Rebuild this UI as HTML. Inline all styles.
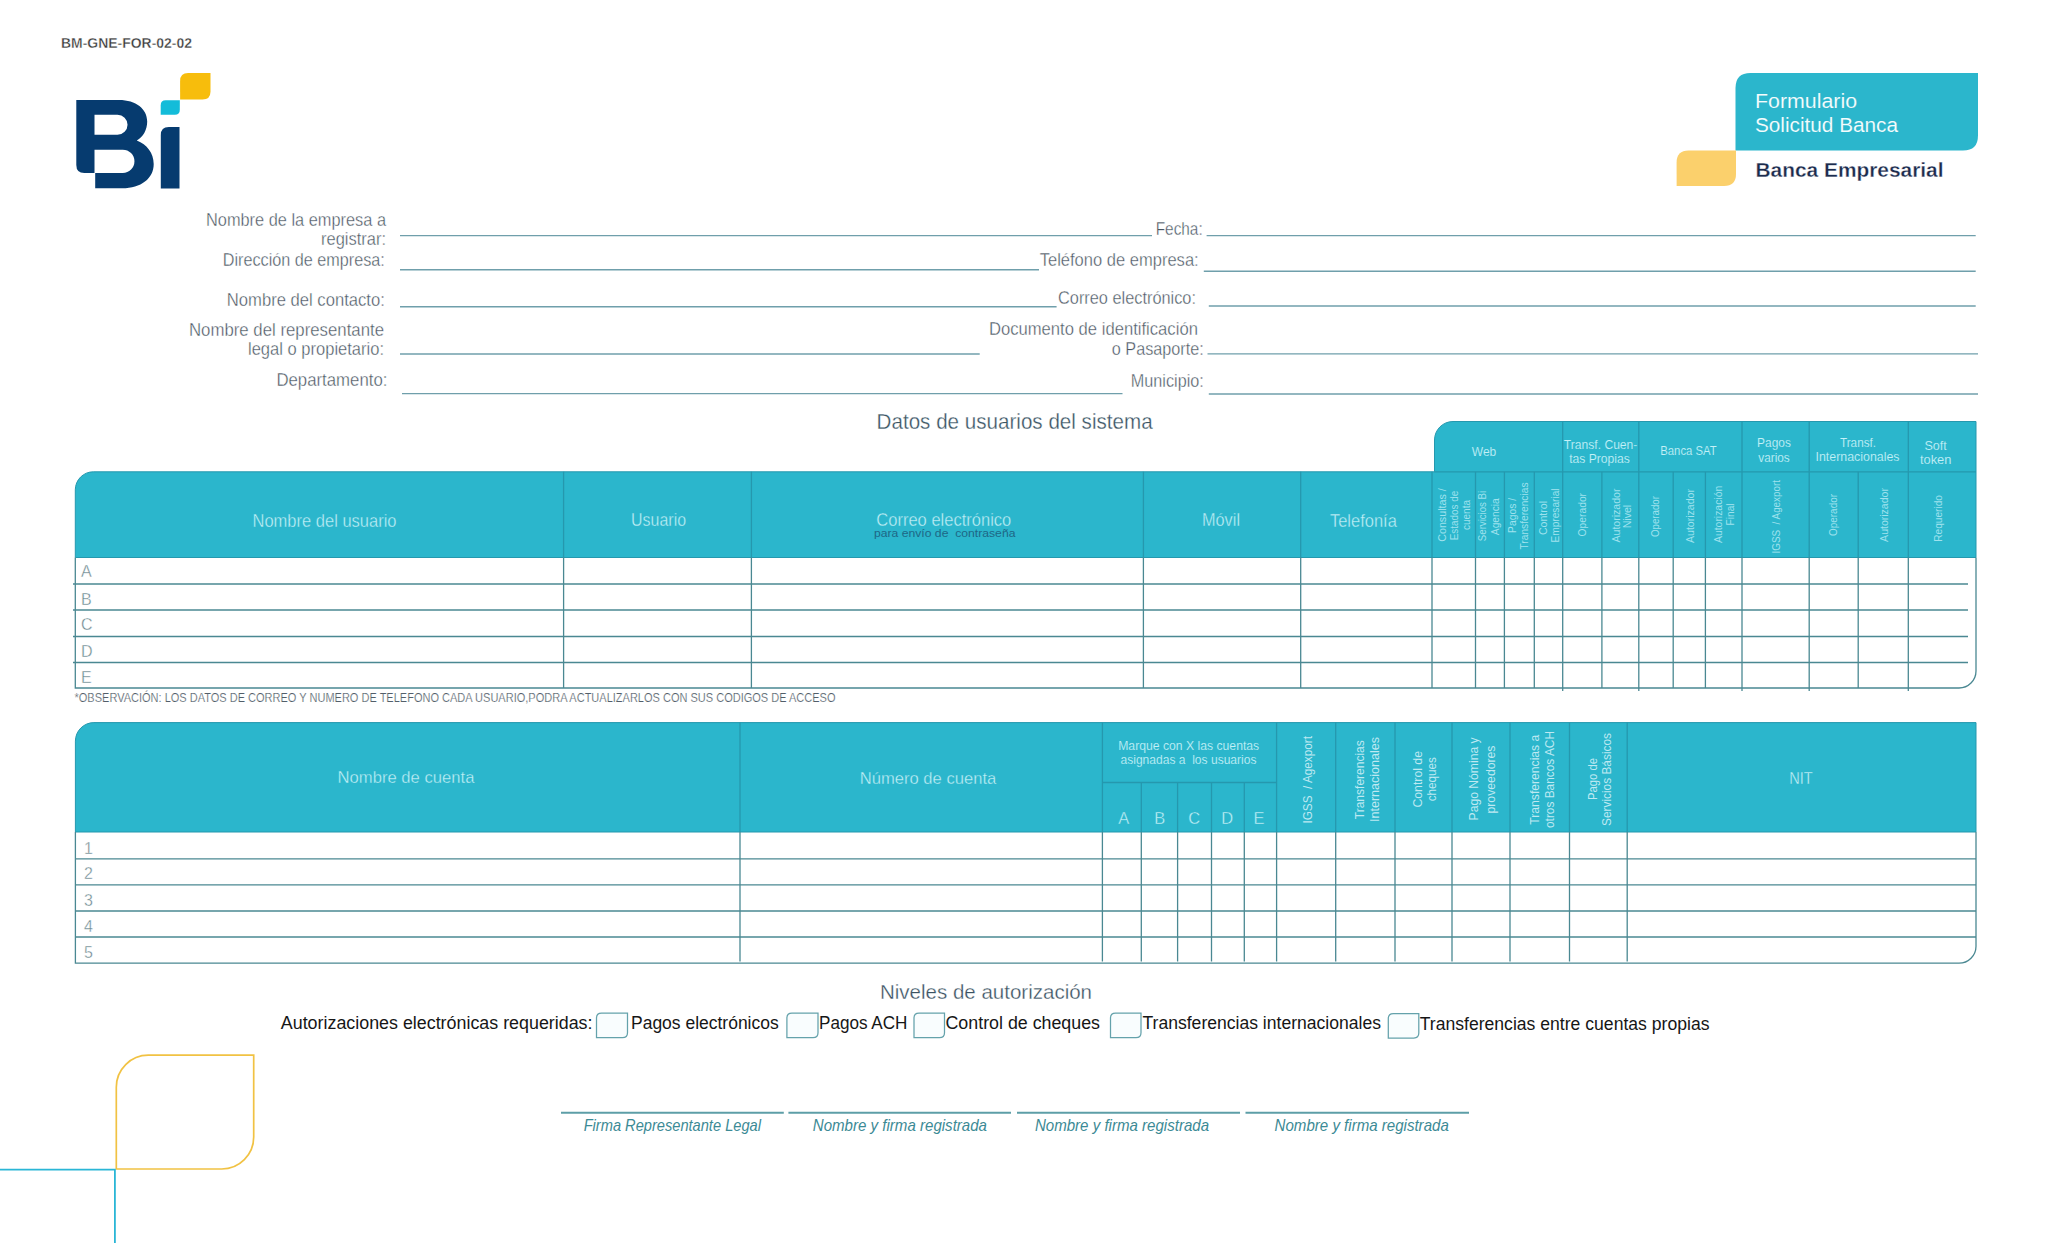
<!DOCTYPE html><html><head><meta charset="utf-8"><style>html,body{margin:0;padding:0;background:#fff;width:2048px;height:1243px;overflow:hidden}svg{display:block;font-family:"Liberation Sans",sans-serif}</style></head><body>
<svg width="2048" height="1243" viewBox="0 0 2048 1243">
<text x="61" y="48.4" font-size="14.5" fill="#3a3a3a" text-anchor="start" stroke="#ffffff" stroke-width="0.35" font-weight="bold" textLength="131" lengthAdjust="spacingAndGlyphs" >BM-GNE-FOR-02-02</text>
<path fill="#063b6f" fill-rule="evenodd" d="M76.3 100 L119 100 C136 100 147.2 109 147.2 121.5 C147.2 130 143 137 136.8 140.5 C147 144.5 153.7 153 153.7 164 C153.7 178.5 141 188.3 122.3 188.3 L95.2 188.3 L95.2 173 L84.3 173 Q76.3 173 76.3 165 Z M94.5 114.7 L117.5 114.7 A10.05 10.05 0 0 1 117.5 134.8 L94.5 134.8 Z M94.5 149.7 L122.8 149.7 A11.65 11.65 0 0 1 122.8 173 L94.5 173 Z"/>
<path fill="#063b6f" d="M160.8 188.4 L160.8 135 Q160.8 127 168.8 127 L179.5 127 L179.5 188.4 Z"/>
<path fill="#13bcd9" d="M160.7 114.8 L160.7 105.2 Q160.7 100.2 165.7 100.2 L179.8 100.2 L179.8 109.8 Q179.8 114.8 174.8 114.8 Z"/>
<path fill="#f7bd0c" d="M180.1 99.4 L180.1 80.9 Q180.1 72.9 188.1 72.9 L210.5 72.9 L210.5 91.4 Q210.5 99.4 202.5 99.4 Z"/>
<path fill="#2bb6cc" d="M1735.5 150.5 L1735.5 88 Q1735.5 73 1750.5 73 L1978 73 L1978 135.5 Q1978 150.5 1963 150.5 Z"/>
<path fill="#fbd06c" d="M1676.6 186 L1676.6 162.5 Q1676.6 150.5 1688.6 150.5 L1736 150.5 L1736 174 Q1736 186 1724 186 Z"/>
<text x="1755" y="108" font-size="20" fill="#f4fcfd" text-anchor="start" stroke="#2bb6cc" stroke-width="0.1" textLength="102" lengthAdjust="spacingAndGlyphs" >Formulario</text>
<text x="1755" y="132" font-size="20" fill="#f4fcfd" text-anchor="start" stroke="#2bb6cc" stroke-width="0.1" textLength="143" lengthAdjust="spacingAndGlyphs" >Solicitud Banca</text>
<text x="1755.5" y="176.7" font-size="20.5" fill="#1b2b4d" text-anchor="start" stroke="#ffffff" stroke-width="0.3" font-weight="bold" textLength="188" lengthAdjust="spacingAndGlyphs" >Banca Empresarial</text>
<text x="386" y="226" font-size="17.5" fill="#48545f" text-anchor="end" stroke="#ffffff" stroke-width="0.35" textLength="180" lengthAdjust="spacingAndGlyphs" >Nombre de la empresa a</text>
<text x="386" y="245" font-size="17.5" fill="#48545f" text-anchor="end" stroke="#ffffff" stroke-width="0.35" textLength="65" lengthAdjust="spacingAndGlyphs" >registrar:</text>
<text x="384.8" y="266" font-size="17.5" fill="#48545f" text-anchor="end" stroke="#ffffff" stroke-width="0.35" textLength="162" lengthAdjust="spacingAndGlyphs" >Dirección de empresa:</text>
<text x="384.8" y="305.6" font-size="17.5" fill="#48545f" text-anchor="end" stroke="#ffffff" stroke-width="0.35" textLength="158" lengthAdjust="spacingAndGlyphs" >Nombre del contacto:</text>
<text x="384" y="336" font-size="17.5" fill="#48545f" text-anchor="end" stroke="#ffffff" stroke-width="0.35" textLength="195" lengthAdjust="spacingAndGlyphs" >Nombre del representante</text>
<text x="384" y="355" font-size="17.5" fill="#48545f" text-anchor="end" stroke="#ffffff" stroke-width="0.35" textLength="136" lengthAdjust="spacingAndGlyphs" >legal o propietario:</text>
<text x="387.4" y="386" font-size="17.5" fill="#48545f" text-anchor="end" stroke="#ffffff" stroke-width="0.35" textLength="111" lengthAdjust="spacingAndGlyphs" >Departamento:</text>
<text x="1202.7" y="235" font-size="17.5" fill="#48545f" text-anchor="end" stroke="#ffffff" stroke-width="0.35" textLength="47" lengthAdjust="spacingAndGlyphs" >Fecha:</text>
<text x="1198.7" y="266" font-size="17.5" fill="#48545f" text-anchor="end" stroke="#ffffff" stroke-width="0.35" textLength="159" lengthAdjust="spacingAndGlyphs" >Teléfono de empresa:</text>
<text x="1196" y="303.7" font-size="17.5" fill="#48545f" text-anchor="end" stroke="#ffffff" stroke-width="0.35" textLength="138" lengthAdjust="spacingAndGlyphs" >Correo electrónico:</text>
<text x="1197.9" y="335" font-size="17.5" fill="#48545f" text-anchor="end" stroke="#ffffff" stroke-width="0.35" textLength="209" lengthAdjust="spacingAndGlyphs" >Documento de identificación</text>
<text x="1203.8" y="355" font-size="17.5" fill="#48545f" text-anchor="end" stroke="#ffffff" stroke-width="0.35" textLength="92" lengthAdjust="spacingAndGlyphs" >o Pasaporte:</text>
<text x="1203.8" y="386.8" font-size="17.5" fill="#48545f" text-anchor="end" stroke="#ffffff" stroke-width="0.35" textLength="73" lengthAdjust="spacingAndGlyphs" >Municipio:</text>
<line x1="400" y1="235.6" x2="1152" y2="235.6" stroke="#6f9fab" stroke-width="1.4"/>
<line x1="400" y1="269.7" x2="1039" y2="269.7" stroke="#6f9fab" stroke-width="1.4"/>
<line x1="400" y1="306.8" x2="1056.6" y2="306.8" stroke="#6f9fab" stroke-width="1.4"/>
<line x1="400" y1="354" x2="979.7" y2="354" stroke="#6f9fab" stroke-width="1.4"/>
<line x1="402" y1="393.6" x2="1122.5" y2="393.6" stroke="#6f9fab" stroke-width="1.4"/>
<line x1="1206.6" y1="235.6" x2="1975.7" y2="235.6" stroke="#6f9fab" stroke-width="1.4"/>
<line x1="1203.8" y1="271.3" x2="1975.7" y2="271.3" stroke="#6f9fab" stroke-width="1.4"/>
<line x1="1208.8" y1="306" x2="1975.7" y2="306" stroke="#6f9fab" stroke-width="1.4"/>
<line x1="1207.5" y1="353.9" x2="1978" y2="353.9" stroke="#6f9fab" stroke-width="1.4"/>
<line x1="1208.8" y1="394" x2="1978" y2="394" stroke="#6f9fab" stroke-width="1.4"/>
<text x="1014.6" y="428.6" font-size="22" fill="#3a5464" text-anchor="middle" stroke="#ffffff" stroke-width="0.3" textLength="276" lengthAdjust="spacingAndGlyphs" >Datos de usuarios del sistema</text>
<path fill="#2bb6cc" stroke="#2598ae" stroke-width="1" d="M75.3 557.5 L75.3 489.8 A18 18 0 0 1 93.3 471.8 L1434.5 471.8 L1434.5 440 A18.5 18.5 0 0 1 1453 421.5 L1976 421.5 L1976 557.5 Z"/>
<line x1="563.6" y1="471.8" x2="563.6" y2="557.5" stroke="#2598ae" stroke-width="1.3"/>
<line x1="751.4" y1="471.8" x2="751.4" y2="557.5" stroke="#2598ae" stroke-width="1.3"/>
<line x1="1143.4" y1="471.8" x2="1143.4" y2="557.5" stroke="#2598ae" stroke-width="1.3"/>
<line x1="1300.7" y1="471.8" x2="1300.7" y2="557.5" stroke="#2598ae" stroke-width="1.3"/>
<line x1="1432" y1="471.8" x2="1432" y2="557.5" stroke="#2598ae" stroke-width="1.3"/>
<line x1="1475.5" y1="471.8" x2="1475.5" y2="557.5" stroke="#2598ae" stroke-width="1.3"/>
<line x1="1504.4" y1="471.8" x2="1504.4" y2="557.5" stroke="#2598ae" stroke-width="1.3"/>
<line x1="1534.3" y1="471.8" x2="1534.3" y2="557.5" stroke="#2598ae" stroke-width="1.3"/>
<line x1="1562.7" y1="471.8" x2="1562.7" y2="557.5" stroke="#2598ae" stroke-width="1.3"/>
<line x1="1601.9" y1="471.8" x2="1601.9" y2="557.5" stroke="#2598ae" stroke-width="1.3"/>
<line x1="1638.8" y1="471.8" x2="1638.8" y2="557.5" stroke="#2598ae" stroke-width="1.3"/>
<line x1="1673.2" y1="471.8" x2="1673.2" y2="557.5" stroke="#2598ae" stroke-width="1.3"/>
<line x1="1705.4" y1="471.8" x2="1705.4" y2="557.5" stroke="#2598ae" stroke-width="1.3"/>
<line x1="1742" y1="471.8" x2="1742" y2="557.5" stroke="#2598ae" stroke-width="1.3"/>
<line x1="1809.2" y1="471.8" x2="1809.2" y2="557.5" stroke="#2598ae" stroke-width="1.3"/>
<line x1="1858.2" y1="471.8" x2="1858.2" y2="557.5" stroke="#2598ae" stroke-width="1.3"/>
<line x1="1908.3" y1="471.8" x2="1908.3" y2="557.5" stroke="#2598ae" stroke-width="1.3"/>
<line x1="1562.7" y1="421.5" x2="1562.7" y2="471.8" stroke="#2598ae" stroke-width="1.3"/>
<line x1="1638.8" y1="421.5" x2="1638.8" y2="471.8" stroke="#2598ae" stroke-width="1.3"/>
<line x1="1742" y1="421.5" x2="1742" y2="471.8" stroke="#2598ae" stroke-width="1.3"/>
<line x1="1809.2" y1="421.5" x2="1809.2" y2="471.8" stroke="#2598ae" stroke-width="1.3"/>
<line x1="1908.3" y1="421.5" x2="1908.3" y2="471.8" stroke="#2598ae" stroke-width="1.3"/>
<line x1="1434.5" y1="471.8" x2="1976" y2="471.8" stroke="#2598ae" stroke-width="1.3"/>
<text x="324.5" y="527.4" font-size="17.5" fill="#c4f1f8" text-anchor="middle" stroke="#2bb6cc" stroke-width="0.35" textLength="144" lengthAdjust="spacingAndGlyphs" >Nombre del usuario</text>
<text x="658.6" y="526" font-size="17.5" fill="#c4f1f8" text-anchor="middle" stroke="#2bb6cc" stroke-width="0.35" textLength="55" lengthAdjust="spacingAndGlyphs" >Usuario</text>
<text x="943.8" y="526" font-size="17.5" fill="#c4f1f8" text-anchor="middle" stroke="#2bb6cc" stroke-width="0.35" textLength="135" lengthAdjust="spacingAndGlyphs" >Correo electrónico</text>
<text x="944.7" y="537" font-size="11.5" fill="#1e6786" text-anchor="middle" textLength="141.5" lengthAdjust="spacingAndGlyphs" xml:space="preserve">para envío de  contraseña</text>
<text x="1221" y="526" font-size="17.5" fill="#c4f1f8" text-anchor="middle" stroke="#2bb6cc" stroke-width="0.35" textLength="38" lengthAdjust="spacingAndGlyphs" >Móvil</text>
<text x="1363.4" y="527.4" font-size="17.5" fill="#c4f1f8" text-anchor="middle" stroke="#2bb6cc" stroke-width="0.35" textLength="67" lengthAdjust="spacingAndGlyphs" >Telefonía</text>
<text x="1484" y="455.5" font-size="12.5" fill="#c4f1f8" text-anchor="middle" stroke="#2bb6cc" stroke-width="0.12" textLength="24.5" lengthAdjust="spacingAndGlyphs" >Web</text>
<text x="1600.6" y="448.5" font-size="12.5" fill="#c4f1f8" text-anchor="middle" stroke="#2bb6cc" stroke-width="0.12" textLength="73.5" lengthAdjust="spacingAndGlyphs" >Transf. Cuen-</text>
<text x="1599.5" y="462.5" font-size="12.5" fill="#c4f1f8" text-anchor="middle" stroke="#2bb6cc" stroke-width="0.12" textLength="60.7" lengthAdjust="spacingAndGlyphs" >tas Propias</text>
<text x="1688.5" y="454.8" font-size="12.5" fill="#c4f1f8" text-anchor="middle" stroke="#2bb6cc" stroke-width="0.12" textLength="56.5" lengthAdjust="spacingAndGlyphs" >Banca SAT</text>
<text x="1774" y="447.3" font-size="12.5" fill="#c4f1f8" text-anchor="middle" stroke="#2bb6cc" stroke-width="0.12" textLength="33.8" lengthAdjust="spacingAndGlyphs" >Pagos</text>
<text x="1774" y="461.8" font-size="12.5" fill="#c4f1f8" text-anchor="middle" stroke="#2bb6cc" stroke-width="0.12" textLength="31.5" lengthAdjust="spacingAndGlyphs" >varios</text>
<text x="1858" y="446.6" font-size="12.5" fill="#c4f1f8" text-anchor="middle" stroke="#2bb6cc" stroke-width="0.12" textLength="36" lengthAdjust="spacingAndGlyphs" >Transf.</text>
<text x="1857.5" y="460.9" font-size="12.5" fill="#c4f1f8" text-anchor="middle" stroke="#2bb6cc" stroke-width="0.12" textLength="84" lengthAdjust="spacingAndGlyphs" >Internacionales</text>
<text x="1935.6" y="450" font-size="12.5" fill="#c4f1f8" text-anchor="middle" stroke="#2bb6cc" stroke-width="0.12" textLength="22.4" lengthAdjust="spacingAndGlyphs" >Soft</text>
<text x="1935.7" y="463.7" font-size="12.5" fill="#c4f1f8" text-anchor="middle" stroke="#2bb6cc" stroke-width="0.12" textLength="31.5" lengthAdjust="spacingAndGlyphs" >token</text>
<text x="0" y="0" transform="translate(1445.5 515) rotate(-90)" font-size="10" fill="#9fe2ee" text-anchor="middle" textLength="53.7" lengthAdjust="spacingAndGlyphs" xml:space="preserve">Consultas /</text>
<text x="0" y="0" transform="translate(1457.8 515.5) rotate(-90)" font-size="10" fill="#9fe2ee" text-anchor="middle" textLength="49.5" lengthAdjust="spacingAndGlyphs" xml:space="preserve">Estados de</text>
<text x="0" y="0" transform="translate(1470.1 515) rotate(-90)" font-size="10" fill="#9fe2ee" text-anchor="middle" textLength="30" lengthAdjust="spacingAndGlyphs" xml:space="preserve">cuenta</text>
<text x="0" y="0" transform="translate(1485.5 516) rotate(-90)" font-size="10" fill="#9fe2ee" text-anchor="middle" textLength="50.3" lengthAdjust="spacingAndGlyphs" xml:space="preserve">Servicios Bi</text>
<text x="0" y="0" transform="translate(1498.5 516.7) rotate(-90)" font-size="10" fill="#9fe2ee" text-anchor="middle" textLength="37" lengthAdjust="spacingAndGlyphs" xml:space="preserve">Agencia</text>
<text x="0" y="0" transform="translate(1515.7 515.4) rotate(-90)" font-size="10" fill="#9fe2ee" text-anchor="middle" textLength="35" lengthAdjust="spacingAndGlyphs" xml:space="preserve">Pagos /</text>
<text x="0" y="0" transform="translate(1528 516) rotate(-90)" font-size="10" fill="#9fe2ee" text-anchor="middle" textLength="67" lengthAdjust="spacingAndGlyphs" xml:space="preserve">Transferencias</text>
<text x="0" y="0" transform="translate(1546.5 518) rotate(-90)" font-size="10" fill="#9fe2ee" text-anchor="middle" textLength="34" lengthAdjust="spacingAndGlyphs" xml:space="preserve">Control</text>
<text x="0" y="0" transform="translate(1558.5 515.5) rotate(-90)" font-size="10" fill="#9fe2ee" text-anchor="middle" textLength="54" lengthAdjust="spacingAndGlyphs" xml:space="preserve">Empresarial</text>
<text x="0" y="0" transform="translate(1585.7 514.7) rotate(-90)" font-size="10" fill="#9fe2ee" text-anchor="middle" textLength="43.5" lengthAdjust="spacingAndGlyphs" xml:space="preserve">Operador</text>
<text x="0" y="0" transform="translate(1619.5 515.5) rotate(-90)" font-size="10" fill="#9fe2ee" text-anchor="middle" textLength="54" lengthAdjust="spacingAndGlyphs" xml:space="preserve">Autorizador</text>
<text x="0" y="0" transform="translate(1631 516.6) rotate(-90)" font-size="10" fill="#9fe2ee" text-anchor="middle" textLength="23.5" lengthAdjust="spacingAndGlyphs" xml:space="preserve">Nivel</text>
<text x="0" y="0" transform="translate(1659 516.5) rotate(-90)" font-size="10" fill="#9fe2ee" text-anchor="middle" textLength="41" lengthAdjust="spacingAndGlyphs" xml:space="preserve">Operador</text>
<text x="0" y="0" transform="translate(1694 516) rotate(-90)" font-size="10" fill="#9fe2ee" text-anchor="middle" textLength="54" lengthAdjust="spacingAndGlyphs" xml:space="preserve">Autorizador</text>
<text x="0" y="0" transform="translate(1722 514.4) rotate(-90)" font-size="10" fill="#9fe2ee" text-anchor="middle" textLength="57.2" lengthAdjust="spacingAndGlyphs" xml:space="preserve">Autorización</text>
<text x="0" y="0" transform="translate(1733.5 514.4) rotate(-90)" font-size="10" fill="#9fe2ee" text-anchor="middle" textLength="22" lengthAdjust="spacingAndGlyphs" xml:space="preserve">Final</text>
<text x="0" y="0" transform="translate(1779.5 516.7) rotate(-90)" font-size="10" fill="#9fe2ee" text-anchor="middle" textLength="73.5" lengthAdjust="spacingAndGlyphs" xml:space="preserve">IGSS  / Agexport</text>
<text x="0" y="0" transform="translate(1836.5 515) rotate(-90)" font-size="10" fill="#9fe2ee" text-anchor="middle" textLength="42" lengthAdjust="spacingAndGlyphs" xml:space="preserve">Operador</text>
<text x="0" y="0" transform="translate(1888 515) rotate(-90)" font-size="10" fill="#9fe2ee" text-anchor="middle" textLength="53.8" lengthAdjust="spacingAndGlyphs" xml:space="preserve">Autorizador</text>
<text x="0" y="0" transform="translate(1941.5 518.4) rotate(-90)" font-size="10" fill="#9fe2ee" text-anchor="middle" textLength="46.8" lengthAdjust="spacingAndGlyphs" xml:space="preserve">Requerido</text>
<line x1="73" y1="584" x2="1968" y2="584" stroke="#4a8892" stroke-width="1.3"/>
<line x1="73" y1="610" x2="1968" y2="610" stroke="#4a8892" stroke-width="1.3"/>
<line x1="73" y1="636.5" x2="1968" y2="636.5" stroke="#4a8892" stroke-width="1.3"/>
<line x1="73" y1="662.5" x2="1968" y2="662.5" stroke="#4a8892" stroke-width="1.3"/>
<path fill="none" stroke="#4a8892" stroke-width="1.3" d="M75.3 557.5 L75.3 688 L1959 688 A17 17 0 0 0 1976 671 L1976 557.5"/>
<line x1="563.6" y1="557.5" x2="563.6" y2="688" stroke="#4a8892" stroke-width="1.3"/>
<line x1="751.4" y1="557.5" x2="751.4" y2="688" stroke="#4a8892" stroke-width="1.3"/>
<line x1="1143.4" y1="557.5" x2="1143.4" y2="688" stroke="#4a8892" stroke-width="1.3"/>
<line x1="1300.7" y1="557.5" x2="1300.7" y2="688" stroke="#4a8892" stroke-width="1.3"/>
<line x1="1432" y1="557.5" x2="1432" y2="688" stroke="#4a8892" stroke-width="1.3"/>
<line x1="1475.5" y1="557.5" x2="1475.5" y2="688" stroke="#4a8892" stroke-width="1.3"/>
<line x1="1504.4" y1="557.5" x2="1504.4" y2="688" stroke="#4a8892" stroke-width="1.3"/>
<line x1="1534.3" y1="557.5" x2="1534.3" y2="688" stroke="#4a8892" stroke-width="1.3"/>
<line x1="1562.7" y1="557.5" x2="1562.7" y2="691" stroke="#4a8892" stroke-width="1.3"/>
<line x1="1601.9" y1="557.5" x2="1601.9" y2="688" stroke="#4a8892" stroke-width="1.3"/>
<line x1="1638.8" y1="557.5" x2="1638.8" y2="691" stroke="#4a8892" stroke-width="1.3"/>
<line x1="1673.2" y1="557.5" x2="1673.2" y2="688" stroke="#4a8892" stroke-width="1.3"/>
<line x1="1705.4" y1="557.5" x2="1705.4" y2="688" stroke="#4a8892" stroke-width="1.3"/>
<line x1="1742" y1="557.5" x2="1742" y2="691" stroke="#4a8892" stroke-width="1.3"/>
<line x1="1809.2" y1="557.5" x2="1809.2" y2="691" stroke="#4a8892" stroke-width="1.3"/>
<line x1="1858.2" y1="557.5" x2="1858.2" y2="688" stroke="#4a8892" stroke-width="1.3"/>
<line x1="1908.3" y1="557.5" x2="1908.3" y2="691" stroke="#4a8892" stroke-width="1.3"/>
<text x="81" y="577.3" font-size="16" fill="#68858d" text-anchor="start" stroke="#ffffff" stroke-width="0.35" >A</text>
<text x="81" y="604.5" font-size="16" fill="#68858d" text-anchor="start" stroke="#ffffff" stroke-width="0.35" >B</text>
<text x="81" y="630.3" font-size="16" fill="#68858d" text-anchor="start" stroke="#ffffff" stroke-width="0.35" >C</text>
<text x="81" y="656.5" font-size="16" fill="#68858d" text-anchor="start" stroke="#ffffff" stroke-width="0.35" >D</text>
<text x="81" y="682.8" font-size="16" fill="#68858d" text-anchor="start" stroke="#ffffff" stroke-width="0.35" >E</text>
<text x="74.5" y="702" font-size="12.6" fill="#525e69" text-anchor="start" stroke="#ffffff" stroke-width="0.2" textLength="761" lengthAdjust="spacingAndGlyphs" >*OBSERVACIÓN: LOS DATOS DE CORREO Y NUMERO DE TELEFONO CADA USUARIO,PODRA ACTUALIZARLOS CON SUS CODIGOS DE ACCESO</text>
<path fill="#2bb6cc" stroke="#2598ae" stroke-width="1" d="M75.4 832 L75.4 741.1 A18.5 18.5 0 0 1 93.9 722.6 L1976 722.6 L1976 832 Z"/>
<line x1="740" y1="722.6" x2="740" y2="832" stroke="#2598ae" stroke-width="1.3"/>
<line x1="1102.4" y1="722.6" x2="1102.4" y2="832" stroke="#2598ae" stroke-width="1.3"/>
<line x1="1276.6" y1="722.6" x2="1276.6" y2="832" stroke="#2598ae" stroke-width="1.3"/>
<line x1="1335.7" y1="722.6" x2="1335.7" y2="832" stroke="#2598ae" stroke-width="1.3"/>
<line x1="1395" y1="722.6" x2="1395" y2="832" stroke="#2598ae" stroke-width="1.3"/>
<line x1="1452" y1="722.6" x2="1452" y2="832" stroke="#2598ae" stroke-width="1.3"/>
<line x1="1510" y1="722.6" x2="1510" y2="832" stroke="#2598ae" stroke-width="1.3"/>
<line x1="1569.5" y1="722.6" x2="1569.5" y2="832" stroke="#2598ae" stroke-width="1.3"/>
<line x1="1627.2" y1="722.6" x2="1627.2" y2="832" stroke="#2598ae" stroke-width="1.3"/>
<line x1="1141.3" y1="782.5" x2="1141.3" y2="832" stroke="#2598ae" stroke-width="1.3"/>
<line x1="1177.6" y1="782.5" x2="1177.6" y2="832" stroke="#2598ae" stroke-width="1.3"/>
<line x1="1211.5" y1="782.5" x2="1211.5" y2="832" stroke="#2598ae" stroke-width="1.3"/>
<line x1="1244.3" y1="782.5" x2="1244.3" y2="832" stroke="#2598ae" stroke-width="1.3"/>
<line x1="1102.4" y1="782.5" x2="1276.6" y2="782.5" stroke="#2598ae" stroke-width="1.3"/>
<text x="406" y="782.8" font-size="17" fill="#c4f1f8" text-anchor="middle" stroke="#2bb6cc" stroke-width="0.35" textLength="137" lengthAdjust="spacingAndGlyphs" >Nombre de cuenta</text>
<text x="928" y="784.3" font-size="17" fill="#c4f1f8" text-anchor="middle" stroke="#2bb6cc" stroke-width="0.35" textLength="136.6" lengthAdjust="spacingAndGlyphs" >Número de cuenta</text>
<text x="1801" y="783.9" font-size="17" fill="#c4f1f8" text-anchor="middle" stroke="#2bb6cc" stroke-width="0.35" textLength="23.6" lengthAdjust="spacingAndGlyphs" >NIT</text>
<text x="1188.7" y="749.6" font-size="12" fill="#c4f1f8" text-anchor="middle" stroke="#2bb6cc" stroke-width="0.12" textLength="141" lengthAdjust="spacingAndGlyphs" >Marque con X las cuentas</text>
<text x="1188.5" y="763.9" font-size="12" fill="#c4f1f8" text-anchor="middle" stroke="#2bb6cc" stroke-width="0.12" textLength="136" lengthAdjust="spacingAndGlyphs" xml:space="preserve">asignadas a  los usuarios</text>
<text x="1123.8" y="823.5" font-size="16.5" fill="#c4f1f8" text-anchor="middle" stroke="#2bb6cc" stroke-width="0.35" >A</text>
<text x="1159.8" y="823.5" font-size="16.5" fill="#c4f1f8" text-anchor="middle" stroke="#2bb6cc" stroke-width="0.35" >B</text>
<text x="1194.3" y="823.5" font-size="16.5" fill="#c4f1f8" text-anchor="middle" stroke="#2bb6cc" stroke-width="0.35" >C</text>
<text x="1227.1" y="823.5" font-size="16.5" fill="#c4f1f8" text-anchor="middle" stroke="#2bb6cc" stroke-width="0.35" >D</text>
<text x="1259.1" y="823.5" font-size="16.5" fill="#c4f1f8" text-anchor="middle" stroke="#2bb6cc" stroke-width="0.35" >E</text>
<text x="0" y="0" transform="translate(1311.5 779.8) rotate(-90)" font-size="12.5" fill="#bfe9f2" text-anchor="middle" textLength="87.5" lengthAdjust="spacingAndGlyphs" xml:space="preserve">IGSS  / Agexport</text>
<text x="0" y="0" transform="translate(1363.5 779.7) rotate(-90)" font-size="12.5" fill="#bfe9f2" text-anchor="middle" textLength="79" lengthAdjust="spacingAndGlyphs" xml:space="preserve">Transferencias</text>
<text x="0" y="0" transform="translate(1378.5 779.5) rotate(-90)" font-size="12.5" fill="#bfe9f2" text-anchor="middle" textLength="85" lengthAdjust="spacingAndGlyphs" xml:space="preserve">Internacionales</text>
<text x="0" y="0" transform="translate(1421.5 779.3) rotate(-90)" font-size="12.5" fill="#bfe9f2" text-anchor="middle" textLength="56.6" lengthAdjust="spacingAndGlyphs" xml:space="preserve">Control de</text>
<text x="0" y="0" transform="translate(1436 779.3) rotate(-90)" font-size="12.5" fill="#bfe9f2" text-anchor="middle" textLength="44" lengthAdjust="spacingAndGlyphs" xml:space="preserve">cheques</text>
<text x="0" y="0" transform="translate(1478 778.9) rotate(-90)" font-size="12.5" fill="#bfe9f2" text-anchor="middle" textLength="83" lengthAdjust="spacingAndGlyphs" xml:space="preserve">Pago Nómina y</text>
<text x="0" y="0" transform="translate(1494.5 779.5) rotate(-90)" font-size="12.5" fill="#bfe9f2" text-anchor="middle" textLength="68" lengthAdjust="spacingAndGlyphs" xml:space="preserve">proveedores</text>
<text x="0" y="0" transform="translate(1538.5 779.7) rotate(-90)" font-size="12.5" fill="#bfe9f2" text-anchor="middle" textLength="90" lengthAdjust="spacingAndGlyphs" xml:space="preserve">Transferencias a</text>
<text x="0" y="0" transform="translate(1553.5 779.5) rotate(-90)" font-size="12.5" fill="#bfe9f2" text-anchor="middle" textLength="97" lengthAdjust="spacingAndGlyphs" xml:space="preserve">otros Bancos ACH</text>
<text x="0" y="0" transform="translate(1597 779) rotate(-90)" font-size="12.5" fill="#bfe9f2" text-anchor="middle" textLength="42" lengthAdjust="spacingAndGlyphs" xml:space="preserve">Pago de</text>
<text x="0" y="0" transform="translate(1611 779.5) rotate(-90)" font-size="12.5" fill="#bfe9f2" text-anchor="middle" textLength="93" lengthAdjust="spacingAndGlyphs" xml:space="preserve">Servicios Básicos</text>
<line x1="75" y1="858.8" x2="1976" y2="858.8" stroke="#4a8892" stroke-width="1.3"/>
<line x1="75" y1="884.8" x2="1976" y2="884.8" stroke="#4a8892" stroke-width="1.3"/>
<line x1="75" y1="911" x2="1976" y2="911" stroke="#4a8892" stroke-width="1.3"/>
<line x1="75" y1="937" x2="1976" y2="937" stroke="#4a8892" stroke-width="1.3"/>
<path fill="none" stroke="#4a8892" stroke-width="1.3" d="M75.4 832 L75.4 963.2 L1959 963.2 A17 17 0 0 0 1976 946.2 L1976 832"/>
<line x1="740" y1="832" x2="740" y2="961.5" stroke="#4a8892" stroke-width="1.3"/>
<line x1="1102.4" y1="832" x2="1102.4" y2="961.5" stroke="#4a8892" stroke-width="1.3"/>
<line x1="1276.6" y1="832" x2="1276.6" y2="961.5" stroke="#4a8892" stroke-width="1.3"/>
<line x1="1335.7" y1="832" x2="1335.7" y2="961.5" stroke="#4a8892" stroke-width="1.3"/>
<line x1="1395" y1="832" x2="1395" y2="961.5" stroke="#4a8892" stroke-width="1.3"/>
<line x1="1452" y1="832" x2="1452" y2="961.5" stroke="#4a8892" stroke-width="1.3"/>
<line x1="1510" y1="832" x2="1510" y2="961.5" stroke="#4a8892" stroke-width="1.3"/>
<line x1="1569.5" y1="832" x2="1569.5" y2="961.5" stroke="#4a8892" stroke-width="1.3"/>
<line x1="1627.2" y1="832" x2="1627.2" y2="961.5" stroke="#4a8892" stroke-width="1.3"/>
<line x1="1141.3" y1="832" x2="1141.3" y2="961.5" stroke="#4a8892" stroke-width="1.3"/>
<line x1="1177.6" y1="832" x2="1177.6" y2="961.5" stroke="#4a8892" stroke-width="1.3"/>
<line x1="1211.5" y1="832" x2="1211.5" y2="961.5" stroke="#4a8892" stroke-width="1.3"/>
<line x1="1244.3" y1="832" x2="1244.3" y2="961.5" stroke="#4a8892" stroke-width="1.3"/>
<text x="84" y="853.5" font-size="16" fill="#68858d" text-anchor="start" stroke="#ffffff" stroke-width="0.35" >1</text>
<text x="84" y="879.2" font-size="16" fill="#68858d" text-anchor="start" stroke="#ffffff" stroke-width="0.35" >2</text>
<text x="84" y="905.5" font-size="16" fill="#68858d" text-anchor="start" stroke="#ffffff" stroke-width="0.35" >3</text>
<text x="84" y="931.5" font-size="16" fill="#68858d" text-anchor="start" stroke="#ffffff" stroke-width="0.35" >4</text>
<text x="84" y="957.8" font-size="16" fill="#68858d" text-anchor="start" stroke="#ffffff" stroke-width="0.35" >5</text>
<text x="986" y="999" font-size="20.5" fill="#3a5262" text-anchor="middle" stroke="#ffffff" stroke-width="0.3" textLength="212" lengthAdjust="spacingAndGlyphs" >Niveles de autorización</text>
<text x="280.8" y="1029.3" font-size="18.3" fill="#161616" text-anchor="start" textLength="311.7" lengthAdjust="spacingAndGlyphs" >Autorizaciones electrónicas requeridas:</text>
<text x="631" y="1029.3" font-size="18.3" fill="#161616" text-anchor="start" textLength="147.7" lengthAdjust="spacingAndGlyphs" >Pagos electrónicos</text>
<text x="819" y="1029.3" font-size="18.3" fill="#161616" text-anchor="start" textLength="88.4" lengthAdjust="spacingAndGlyphs" >Pagos ACH</text>
<text x="945.5" y="1029.3" font-size="18.3" fill="#161616" text-anchor="start" textLength="154.5" lengthAdjust="spacingAndGlyphs" >Control de cheques</text>
<text x="1142.5" y="1029.3" font-size="18.3" fill="#161616" text-anchor="start" textLength="238.5" lengthAdjust="spacingAndGlyphs" >Transferencias internacionales</text>
<text x="1419.7" y="1030.3" font-size="18.3" fill="#161616" text-anchor="start" textLength="289.8" lengthAdjust="spacingAndGlyphs" >Transferencias entre cuentas propias</text>
<path fill="#f9fdfe" stroke="#64a2ab" stroke-width="1.25" d="M596.5 1037.7 L596.5 1018.2 Q596.5 1013.2 601.5 1013.2 L627.5 1013.2 L627.5 1032.7 Q627.5 1037.7 622.5 1037.7 Z"/>
<path fill="#f9fdfe" stroke="#64a2ab" stroke-width="1.25" d="M786.9 1037.7 L786.9 1018.2 Q786.9 1013.2 791.9 1013.2 L818 1013.2 L818 1032.7 Q818 1037.7 813 1037.7 Z"/>
<path fill="#f9fdfe" stroke="#64a2ab" stroke-width="1.25" d="M914 1037.7 L914 1018.2 Q914 1013.2 919 1013.2 L944.5 1013.2 L944.5 1032.7 Q944.5 1037.7 939.5 1037.7 Z"/>
<path fill="#f9fdfe" stroke="#64a2ab" stroke-width="1.25" d="M1110.5 1037.7 L1110.5 1018.2 Q1110.5 1013.2 1115.5 1013.2 L1141 1013.2 L1141 1032.7 Q1141 1037.7 1136 1037.7 Z"/>
<path fill="#f9fdfe" stroke="#64a2ab" stroke-width="1.25" d="M1388.3 1038 L1388.3 1018.5 Q1388.3 1013.5 1393.3 1013.5 L1418.8 1013.5 L1418.8 1033 Q1418.8 1038 1413.8 1038 Z"/>
<line x1="561" y1="1112.8" x2="783.8" y2="1112.8" stroke="#5d9ea7" stroke-width="2"/>
<line x1="788.4" y1="1112.8" x2="1011" y2="1112.8" stroke="#5d9ea7" stroke-width="2"/>
<line x1="1017" y1="1112.8" x2="1240" y2="1112.8" stroke="#5d9ea7" stroke-width="2"/>
<line x1="1245.5" y1="1112.8" x2="1469" y2="1112.8" stroke="#5d9ea7" stroke-width="2"/>
<text x="672.3" y="1131.4" font-size="16.5" fill="#3c8a95" text-anchor="middle" font-style="italic" textLength="177.3" lengthAdjust="spacingAndGlyphs" >Firma Representante Legal</text>
<text x="899.9" y="1131.4" font-size="16.5" fill="#3c8a95" text-anchor="middle" font-style="italic" textLength="174.2" lengthAdjust="spacingAndGlyphs" >Nombre y firma registrada</text>
<text x="1122" y="1131.4" font-size="16.5" fill="#3c8a95" text-anchor="middle" font-style="italic" textLength="174.2" lengthAdjust="spacingAndGlyphs" >Nombre y firma registrada</text>
<text x="1361.7" y="1131.4" font-size="16.5" fill="#3c8a95" text-anchor="middle" font-style="italic" textLength="174.2" lengthAdjust="spacingAndGlyphs" >Nombre y firma registrada</text>
<path fill="none" stroke="#f1c243" stroke-width="1.7" d="M116.3 1169 L116.3 1087.2 A32 32 0 0 1 148.3 1055.2 L253.7 1055.2 L253.7 1137 A32 32 0 0 1 221.7 1169 Z"/>
<path fill="none" stroke="#2ab6d6" stroke-width="1.8" d="M0 1169.6 L114.9 1169.6 L114.9 1243"/>
</svg></body></html>
